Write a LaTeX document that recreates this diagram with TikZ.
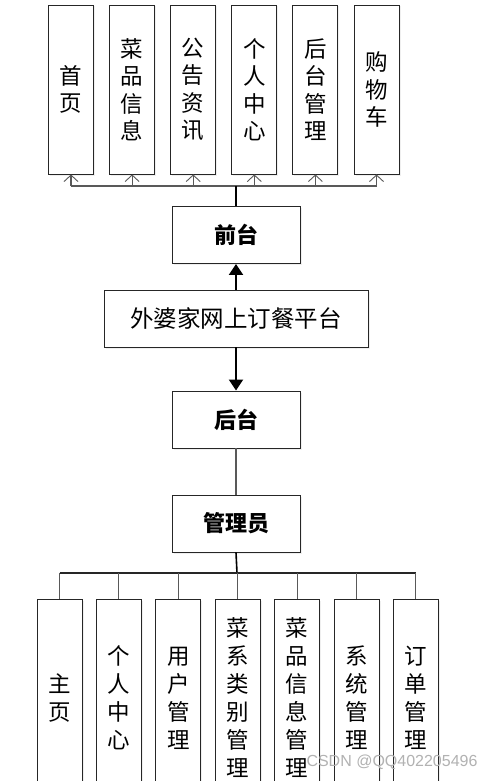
\documentclass[tikz,border=0pt]{standalone}
\usepackage{fontspec}
\newfontfamily\cjk{Noto Sans CJK SC}
\newfontfamily\wmfont{Liberation Sans}
\usetikzlibrary{arrows.meta,shadows}
\tikzset{
  box/.style={draw=black!85, line width=0.9pt, fill=white, inner sep=0pt,
    drop shadow={shadow xshift=1.5pt, shadow yshift=-1.5pt, opacity=0.12}},
  vbox/.style={box, minimum width=45pt, minimum height=169pt,
    font=\cjk\fontsize{22.5}{27.5}\selectfont, align=center, text width=45pt},
  lvbox/.style={box, minimum width=45pt, minimum height=198pt,
    font=\cjk\fontsize{22.5}{28}\selectfont, align=center, text width=45pt},
  hbox/.style={box, minimum width=128pt, minimum height=57pt,
    font=\cjk\bfseries\fontsize{22}{24}\selectfont},
  pbox/.style={box, minimum width=264pt, minimum height=57pt,
    font=\cjk\fontsize{23.5}{25}\selectfont},
  thin/.style={draw=black!65, line width=1.1pt},
  barbline/.style={thin, -{Straight Barb[length=6.5pt,width=14pt,line width=0.9pt]}},
  trunk/.style={draw=black, line width=2pt},
  farrow/.style={trunk, -{Triangle[length=11pt,width=14pt]}},
}
\begin{document}
\begin{tikzpicture}[x=1pt,y=-1pt]
\useasboundingbox (0,0) rectangle (494,781);
\clip (0,0) rectangle (494,781);
\fill[white] (0,0) rectangle (494,781);
% top row
\node[vbox] (t1) at (71,89.5) {首\\页};
\node[vbox] (t2) at (132.1,89.5) {菜\\品\\信\\息};
\node[vbox] (t3) at (193.2,89.5) {公\\告\\资\\讯};
\node[vbox] (t4) at (254.3,89.5) {个\\人\\中\\心};
\node[vbox] (t5) at (315.4,89.5) {后\\台\\管\\理};
\node[vbox] (t6) at (376.5,89.5) {购\\物\\车};
% middle
\node[hbox] (front) at (236,235) {前台};
\node[pbox] (plat) at (236,318.5) {外婆家网上订餐平台};
\node[hbox] (back) at (236,419.5) {后台};
\node[hbox] (admin) at (236,523.5) {管理员};
% bottom row
\node[lvbox] (b1) at (59.5,698) {主\\页};
\node[lvbox] (b2) at (118.9,698) {个\\人\\中\\心};
\node[lvbox] (b3) at (178.3,698) {用\\户\\管\\理};
\node[lvbox] (b4) at (237.7,698) {菜\\系\\类\\别\\管\\理};
\node[lvbox] (b5) at (297.1,698) {菜\\品\\信\\息\\管\\理};
\node[lvbox] (b6) at (356.5,698) {系\\统\\管\\理};
\node[lvbox] (b7) at (415.9,698) {订\\单\\管\\理};
% top connectors
\coordinate (tj) at (236,186);
\draw[thin] (t1.south |- tj) -- (t6.south |- tj);
\foreach \n in {t1,t2,t3,t4,t5,t6}{
  \draw[barbline] (\n.south |- tj) -- (\n.south);
}
\draw[trunk] (tj) -- (front.north);
% middle arrows
\draw[farrow] (plat.north) -- (front.south);
\draw[farrow] (plat.south) -- (back.north);
\draw[thin] (back.south) -- (admin.north);
% bottom connectors
\coordinate (bj) at (237,573);
\draw[trunk, line width=1.6pt] (admin.south) -- (bj);
\draw[draw=black!85, line width=1.1pt] (b1.north |- bj) -- (b7.north |- bj);
\foreach \n in {b1,b2,b3,b4,b5,b6,b7}{
  \draw[thin] (\n.north |- bj) -- (\n.north);
}
% watermark
\node[font=\wmfont\fontsize{16}{18}\selectfont, text=black!30, inner sep=0pt] (wm) at (392,762) {CSDN @QQ402205496};
\end{tikzpicture}
\end{document}
